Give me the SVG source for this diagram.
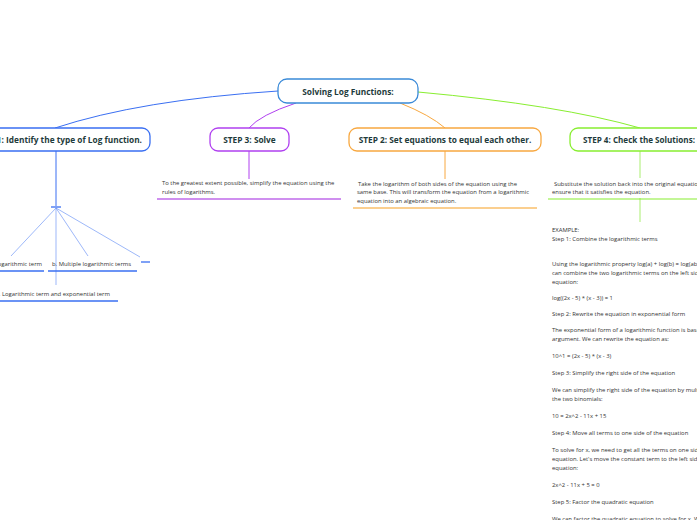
<svg xmlns="http://www.w3.org/2000/svg" width="697" height="520" viewBox="0 0 697 520">
<style>
.n{fill:#fff;stroke-width:1.3}
.t{font-family:"Open Sans",sans-serif;font-weight:bold;font-size:8.3px;fill:#1e3b3b}
.s{font-family:"Open Sans",sans-serif;font-size:5.9px;fill:#333}
.c{fill:none;stroke-width:1}
</style>
<g id="connectors">
<path class="c" d="M278,91 Q140,100 55,128" stroke="#3a6ff2" stroke-width="1.6"/>
<path class="c" d="M296,103 Q260,115 249,128" stroke="#b040f0"/>
<path class="c" d="M400,103 Q430,115 445,128" stroke="#f8a840"/>
<path class="c" d="M418,92 Q560,105 640,128" stroke="#88ee30" stroke-width="1.6"/>
<path class="c" d="M249,151 V179" stroke="#b040f0" stroke-width="0.6"/>
<path class="c" d="M445,151 V179" stroke="#f8a840" stroke-width="0.6"/>
<path class="c" d="M640,151 V178 M640,198 V222" stroke="#aaee70" stroke-width="0.6"/>
<path class="c" d="M56,151 V206" stroke="#3a6ff2" stroke-width="0.6"/>
<g stroke="#5a88f5" stroke-width="0.6" fill="none">
<path d="M56,208 L11,256 M56,208 L88,256 M56,208 L140,257 M56,208 V285"/>
</g>
</g>
<g id="main"><rect class="n" x="278" y="79" width="140" height="24" rx="9" stroke="#3a8ad8"/><text class="t" x="348" y="94.5" text-anchor="middle" font-size="9.5">Solving Log Functions:</text></g>
<g id="step1"><rect class="n" x="-10" y="128" width="160" height="23" rx="8" stroke="#3a6ff2"/><text class="t" x="142" y="142.5" text-anchor="end">STEP 1: Identify the type of Log function.</text></g>
<g id="step3"><rect class="n" x="210" y="128" width="79" height="23" rx="8" stroke="#b040f0"/><text class="t" x="249.5" y="142.5" text-anchor="middle">STEP 3: Solve</text></g>
<g id="step2"><rect class="n" x="349" y="128" width="192" height="23" rx="8" stroke="#f8a840"/><text class="t" x="445" y="142.5" text-anchor="middle">STEP 2: Set equations to equal each other.</text></g>
<g id="step4"><rect class="n" x="570" y="128" width="140" height="23" rx="8" stroke="#88ee30"/><text class="t" x="583" y="142.5" textLength="112" lengthAdjust="spacingAndGlyphs">STEP 4: Check the Solutions:</text></g>
<g id="note3"><text class="s" x="162" y="185">To the greatest extent possible, simplify the equation using the</text><text class="s" x="162" y="194">rules of logarithms.</text><line x1="157" y1="199" x2="341" y2="199" stroke="#a020e0" stroke-width="1.2"/></g>
<g id="note2"><text class="s" x="358" y="185.5">Take the logarithm of both sides of the equation using the</text><text class="s" x="357" y="194">same base. This will transform the equation from a logarithmic</text><text class="s" x="357" y="202.5">equation into an algebraic equation.</text><line x1="353" y1="208" x2="537" y2="208" stroke="#f8a020" stroke-width="1.2"/></g>
<g id="note4"><text class="s" x="554" y="185.5">Substitute the solution back into the original equation to</text><text class="s" x="552" y="194">ensure that it satisfies the equation.</text><line x1="548" y1="199" x2="697" y2="199" stroke="#88ee30" stroke-width="1.2"/></g>
<g id="example">
<text class="s" x="552" y="232">EXAMPLE:</text>
<text class="s" x="552" y="241">Step 1: Combine the logarithmic terms</text>
<text class="s" x="552" y="266">Using the logarithmic property log(a) + log(b) = log(ab), we</text>
<text class="s" x="552" y="275">can combine the two logarithmic terms on the left side of the</text>
<text class="s" x="552" y="284">equation:</text>
<text class="s" x="552" y="300">log((2x - 5) * (x - 3)) = 1</text>
<text class="s" x="552" y="316">Step 2: Rewrite the equation in exponential form</text>
<text class="s" x="552" y="332">The exponential form of a logarithmic function is based on the</text>
<text class="s" x="552" y="341">argument. We can rewrite the equation as:</text>
<text class="s" x="552" y="358">10^1 = (2x - 5) * (x - 3)</text>
<text class="s" x="552" y="375">Step 3: Simplify the right side of the equation</text>
<text class="s" x="552" y="392">We can simplify the right side of the equation by multiplying</text>
<text class="s" x="552" y="401">the two binomials:</text>
<text class="s" x="552" y="418">10 = 2x^2 - 11x + 15</text>
<text class="s" x="552" y="435">Step 4: Move all terms to one side of the equation</text>
<text class="s" x="552" y="452">To solve for x, we need to get all the terms on one side of the</text>
<text class="s" x="552" y="461">equation. Let's move the constant term to the left side of the</text>
<text class="s" x="552" y="470">equation:</text>
<text class="s" x="552" y="487">2x^2 - 11x + 5 = 0</text>
<text class="s" x="552" y="504">Step 5: Factor the quadratic equation</text>
<text class="s" x="552" y="521">We can factor the quadratic equation to solve for x. We</text>
</g>
<g id="hub"><line x1="51" y1="207" x2="61" y2="207" stroke="#3a6ff2" stroke-width="1.3"/></g>
<g id="typeA"><text class="s" x="42" y="266" text-anchor="end">a. One logarithmic term</text><line x1="0" y1="271" x2="44" y2="271" stroke="#3a6ff2" stroke-width="1.3"/></g>
<g id="typeB"><text class="s" x="52" y="266">b. Multiple logarithmic terms</text><line x1="48" y1="271" x2="137" y2="271" stroke="#3a6ff2" stroke-width="1.3"/></g>
<g id="typeD"><line x1="141" y1="262" x2="150" y2="262" stroke="#3a6ff2" stroke-width="1.3"/></g>
<g id="typeC"><text class="s" x="-4" y="296">c. Logarithmic term and exponential term</text><line x1="0" y1="301" x2="118" y2="301" stroke="#3a6ff2" stroke-width="1.3"/></g>
</svg>
